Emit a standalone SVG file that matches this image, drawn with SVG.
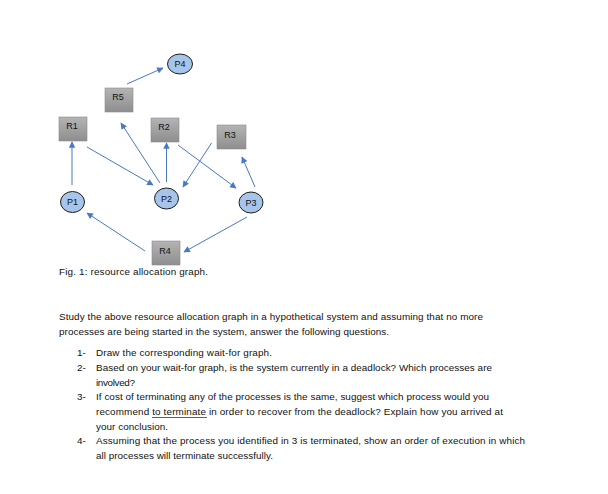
<svg xmlns="http://www.w3.org/2000/svg" width="608" height="494" viewBox="0 0 608 494">
  <style>
    .res rect { fill: url(#gray); stroke: #8a8a8a; stroke-width: 0.6; }
    .proc ellipse { fill: #a7c5ea; stroke: #1e1e1e; stroke-width: 1; }
    .lbl { font-family: "Liberation Sans", Arial, sans-serif; font-size: 9px; fill: #111; text-anchor: middle; }
    .txt { font-family: "Liberation Sans", Arial, sans-serif; font-size: 9.9px; fill: #111; }
    #connectors line { stroke: #4a78c4; stroke-width: 1; marker-end: url(#arrow); }
  </style>
  <defs>
    <linearGradient id="gray" x1="0" y1="0" x2="0" y2="1">
      <stop offset="0" stop-color="#b4b4b4"/>
      <stop offset="1" stop-color="#8e8e8e"/>
    </linearGradient>
    <marker id="arrow" viewBox="0 0 10 10" refX="9" refY="5" markerWidth="8" markerHeight="6.5" markerUnits="userSpaceOnUse" orient="auto">
      <path d="M0,0 L10,5 L0,10 z" fill="#4a78c4"/>
    </marker>
  </defs>
  <rect width="608" height="494" fill="#ffffff"/>

  <g id="connectors">
    <line x1="127" y1="84" x2="163" y2="68"/>
    <line x1="72" y1="185" x2="72" y2="142"/>
    <line x1="87" y1="147" x2="153" y2="185"/>
    <line x1="160" y1="183" x2="121" y2="123"/>
    <line x1="166.5" y1="182" x2="166.5" y2="143"/>
    <line x1="211.5" y1="143" x2="183" y2="187"/>
    <line x1="178" y1="145" x2="236" y2="188"/>
    <line x1="255" y1="187" x2="242" y2="157"/>
    <line x1="247" y1="217" x2="184" y2="252"/>
    <line x1="145" y1="251" x2="87" y2="213"/>
  </g>

  <g id="P4" class="proc"><ellipse cx="180" cy="64" rx="12.5" ry="10"/><text class="lbl" x="180" y="67">P4</text></g>
  <g id="R5" class="res"><rect x="105" y="88" width="28" height="24"/><text class="lbl" x="118" y="100">R5</text></g>
  <g id="R1" class="res"><rect x="59" y="117" width="28" height="24"/><text class="lbl" x="72" y="129">R1</text></g>
  <g id="R2" class="res"><rect x="151" y="118" width="28" height="24"/><text class="lbl" x="164" y="130">R2</text></g>
  <g id="R3" class="res"><rect x="217" y="125" width="29" height="24"/><text class="lbl" x="230" y="138">R3</text></g>
  <g id="P1" class="proc"><ellipse cx="72.5" cy="202" rx="12" ry="10.5"/><text class="lbl" x="72.5" y="205">P1</text></g>
  <g id="P2" class="proc"><ellipse cx="166.5" cy="198.5" rx="12" ry="10.5"/><text class="lbl" x="166.5" y="201.5">P2</text></g>
  <g id="P3" class="proc"><ellipse cx="251" cy="202.5" rx="12" ry="10.5"/><text class="lbl" x="251" y="205.5">P3</text></g>
  <g id="R4" class="res"><rect x="152" y="241" width="28" height="24"/><text class="lbl" x="165" y="254">R4</text></g>

  <g id="caption"><text class="txt" x="59" y="275" textLength="149">Fig. 1: resource allocation graph.</text></g>

  <g id="questions">
    <text class="txt" x="59" y="320" textLength="424">Study the above resource allocation graph in a hypothetical system and assuming that no more</text>
    <text class="txt" x="59" y="335" textLength="330">processes are being started in the system, answer the following questions.</text>
    <text class="txt" x="77" y="356">1-</text>
    <text class="txt" x="96" y="356" textLength="176">Draw the corresponding wait-for graph.</text>
    <text class="txt" x="77" y="371">2-</text>
    <text class="txt" x="96" y="371" textLength="396">Based on your wait-for graph, is the system currently in a deadlock? Which processes are</text>
    <text class="txt" x="96" y="386" textLength="39">involved?</text>
    <text class="txt" x="77" y="400">3-</text>
    <text class="txt" x="96" y="400" textLength="393">If cost of terminating any of the processes is the same, suggest which process would you</text>
    <text class="txt" x="96" y="415" textLength="407">recommend to terminate in order to recover from the deadlock? Explain how you arrived at</text>
    <line x1="152" y1="417.5" x2="207" y2="417.5" stroke="#3a62b8" stroke-width="1"/>
    <text class="txt" x="96" y="430" textLength="72">your conclusion.</text>
    <text class="txt" x="77" y="444">4-</text>
    <text class="txt" x="96" y="444" textLength="429">Assuming that the process you identified in 3 is terminated, show an order of execution in which</text>
    <text class="txt" x="96" y="459" textLength="177">all processes will terminate successfully.</text>
  </g>
</svg>
